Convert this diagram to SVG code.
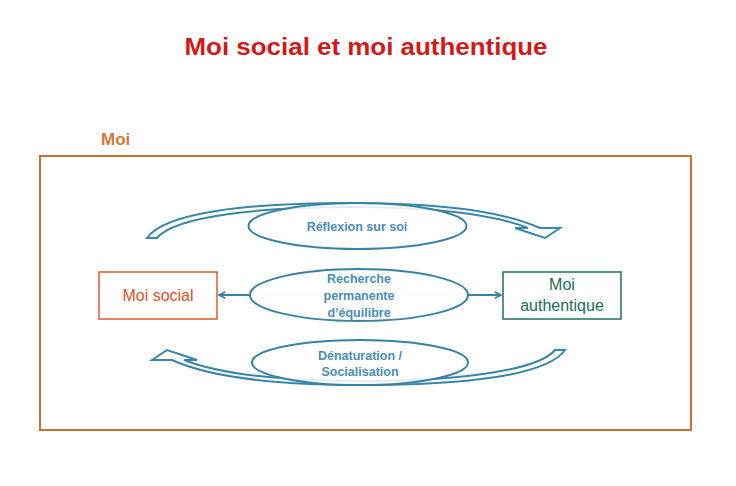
<svg xmlns="http://www.w3.org/2000/svg" width="736" height="486" viewBox="0 0 736 486">
<defs>
<style>
.lbl{font-family:"Liberation Sans",Arial,sans-serif;font-weight:bold;fill:#4A8DB5;font-size:12.5px;text-anchor:middle}
.ell{fill:#ffffff;fill-opacity:0.85;stroke:#3A82A2;stroke-width:2}
.band{fill:#ffffff;stroke:#3A86A8;stroke-width:2;stroke-linejoin:miter}
.conn{stroke:#3A82A2;stroke-width:2;fill:none}
</style>
<marker id="arr" viewBox="0 0 10 10" refX="9" refY="5" markerWidth="8" markerHeight="10" orient="auto" markerUnits="userSpaceOnUse">
<path d="M1,1 L9,5 L1,9" fill="none" stroke="#3A82A2" stroke-width="2"/>
</marker>
</defs>
<rect width="736" height="486" fill="#ffffff"/>
<text x="366" y="55" font-family="Liberation Sans,Arial,sans-serif" font-weight="bold" font-size="23" fill="#D01A1A" text-anchor="middle" textLength="363" lengthAdjust="spacingAndGlyphs">Moi social et moi authentique</text>
<g id="moi">
<rect x="40" y="156" width="651" height="274" fill="none" stroke="#C87137" stroke-width="2"/>
<text x="101" y="145" font-family="Liberation Sans,Arial,sans-serif" font-weight="bold" font-size="17" fill="#D07A3A">Moi</text>
</g>
<g id="connectors">
<path class="band" d="M147,238 C165,212 250,203 350,203 C440,203 505,212 540,228 L560,228 L545,238 L530,233 L515,228 L528,228 C495,215 440,207 350,207 C262,207 175,216 157,238 Z"/>
<path class="band" transform="rotate(180 356 294)" d="M147,238 C165,212 250,203 350,203 C440,203 505,212 540,228 L560,228 L545,238 L530,233 L515,228 L528,228 C495,215 440,207 350,207 C262,207 175,216 157,238 Z"/>
<line x1="250" y1="295" x2="468" y2="295" stroke="#D9E8F0" stroke-width="2"/>
<line class="conn" x1="251" y1="295" x2="219" y2="295" marker-end="url(#arr)"/>
<line class="conn" x1="467" y1="295" x2="501" y2="295" marker-end="url(#arr)"/>
</g>
<g id="reflexion">
<ellipse class="ell" cx="357.5" cy="226" rx="109" ry="23"/>
<text class="lbl" x="357" y="231">Réflexion sur soi</text>
</g>
<g id="recherche">
<ellipse class="ell" cx="359" cy="295" rx="109" ry="26" fill-opacity="0.8"/>
<text class="lbl" x="359" y="283">Recherche</text>
<text class="lbl" x="359" y="300">permanente</text>
<text class="lbl" x="359" y="317">d’équilibre</text>
</g>
<g id="denaturation">
<ellipse class="ell" cx="360" cy="362.5" rx="108" ry="22.5"/>
<text class="lbl" x="360" y="360">Dénaturation /</text>
<text class="lbl" x="360" y="376">Socialisation</text>
</g>
<g id="moi-social">
<rect x="99" y="272" width="118" height="47" fill="#ffffff" stroke="#E05A2B" stroke-width="1.5"/>
<text x="158" y="301" font-family="Liberation Sans,Arial,sans-serif" font-size="16" fill="#E0502A" text-anchor="middle">Moi social</text>
</g>
<g id="moi-authentique">
<rect x="503" y="272" width="118" height="47" fill="#ffffff" stroke="#1E7060" stroke-width="1.5"/>
<text x="562" y="290" font-family="Liberation Sans,Arial,sans-serif" font-size="16" fill="#1E6B5A" text-anchor="middle">Moi</text>
<text x="562" y="311" font-family="Liberation Sans,Arial,sans-serif" font-size="16" fill="#1E6B5A" text-anchor="middle">authentique</text>
</g>
</svg>
